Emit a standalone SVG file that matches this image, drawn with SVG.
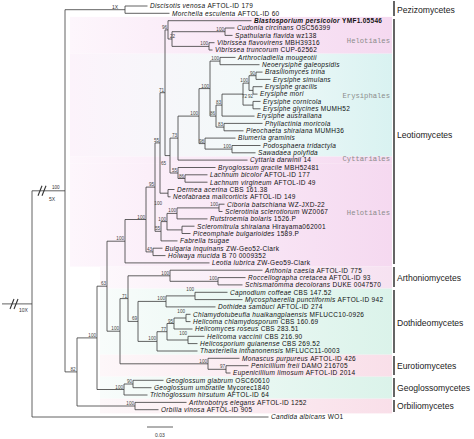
<svg xmlns="http://www.w3.org/2000/svg" width="474" height="439" viewBox="0 0 474 439">
<defs>
<linearGradient id="gPink" x1="0" x2="1" y1="0" y2="0"><stop offset="0" stop-color="#fdf6fc"/><stop offset="1" stop-color="#f5d9f0"/></linearGradient>
<linearGradient id="gCyan" x1="0" x2="1" y1="0" y2="0"><stop offset="0" stop-color="#fcf3fb"/><stop offset="0.55" stop-color="#f2f9f9"/><stop offset="1" stop-color="#d9f2f1"/></linearGradient>
<linearGradient id="gMint" x1="0" x2="1" y1="0" y2="0"><stop offset="0" stop-color="#f8fcfb"/><stop offset="1" stop-color="#dbf3ea"/></linearGradient>
<linearGradient id="gRose" x1="0" x2="1" y1="0" y2="0"><stop offset="0" stop-color="#fdf7f9"/><stop offset="1" stop-color="#f9dfe9"/></linearGradient>
<linearGradient id="gLav" x1="0" x2="1" y1="0" y2="0"><stop offset="0" stop-color="#fdf8fc"/><stop offset="1" stop-color="#f6e2f1"/></linearGradient>
</defs>
<style>
.t{font-family:"Liberation Sans",Arial,sans-serif;font-size:6.5px;letter-spacing:0.3px;font-style:italic;fill:#111}
.t .r{font-style:normal}
.b{font-weight:bold}
.s{font-family:"Liberation Sans",Arial,sans-serif;font-size:4.6px;fill:#444;text-anchor:end}
.m{font-family:"Liberation Sans",Arial,sans-serif;font-size:5px;fill:#333}
.c{font-family:"Liberation Sans",Arial,sans-serif;font-size:8.6px;fill:#222}
.o{font-family:"Liberation Mono","DejaVu Sans Mono",monospace;font-size:7.2px;fill:#8c8c8c;text-anchor:end}
.br{stroke:#3a3a3a;stroke-width:0.8;fill:none}
.sl{stroke:#333;stroke-width:1.1}
.bar{stroke:#111;stroke-width:1.3}
</style>
<rect width="474" height="439" fill="#fff"/>
<g id="bands">
<rect x="70" y="16.9" width="322" height="36.8" fill="url(#gPink)"/>
<rect x="70" y="53.7" width="322" height="102.8" fill="url(#gCyan)"/>
<rect x="70" y="156.5" width="322" height="7.3" fill="url(#gPink)"/>
<rect x="70" y="163.8" width="322" height="102.8" fill="url(#gPink)"/>
<rect x="100" y="266.6" width="292" height="22" fill="url(#gLav)"/>
<rect x="100" y="288.6" width="292" height="66.1" fill="url(#gMint)"/>
<rect x="100" y="354.7" width="292" height="22" fill="url(#gRose)"/>
<rect x="100" y="376.7" width="292" height="22" fill="url(#gMint)"/>
<rect x="100" y="398.7" width="292" height="14.7" fill="url(#gRose)"/>
</g>
<g id="connectors" class="br">
<path d="M2 303.9H32M32 190.8V417M32 190.8H65M32 417H268.5"/>
<path d="M65 9.7V371.9M65 9.7H125M65 371.9H77M125 6V13.3M125 6H147.5M125 13.3H169.5"/>
<path d="M77 337.9V406M77 337.9H97M77 406H135M135 402.4V409.7M135 402.4H186.5M135 409.7H158.5"/>
<path d="M97 286.2V389.5M97 286.2H107M97 389.5H124M124 384V395M124 384H133M124 395H147.5M133 380.3V387.7M133 380.3H163.5M133 387.7H151.5"/>
<path d="M107 241.2V331.2M107 241.2H125M107 331.2H120M120 298.6V363.8M120 298.6H128M120 363.8H208"/>
<path d="M208 358.3V369.3M208 358.3H239.5M208 369.3H226M226 365.7V373M226 365.7H248.5M226 373H230.5"/>
<path d="M128 275.8V321.4M128 275.8H170M128 321.4H138M170 270.2V281.3M170 270.2H262.5M170 281.3H218M218 277.6V284.9M218 277.6H245.5M218 284.9H242.5"/>
<path d="M138 301.4V341.4M138 301.4H166M138 341.4H157M166 295.9V306.9M166 295.9H195M166 306.9H215.5M195 292.3V299.6M195 292.3H227.5M195 299.6H242.5"/>
<path d="M157 331.7V351M157 331.7H167M157 351H197.5M167 323.5V340M167 323.5H174M167 340H188M174 318V329M174 318H186M174 329H192.5M186 314.3V321.6M186 314.3H190.5M186 321.6H190.5M188 336.3V343.6M188 336.3H204.5M188 343.6H197.5"/>
<path d="M125 219.5V262.9M125 219.5H146M125 262.9H209.5M146 187.1V251.9M146 187.1H155M146 251.9H153M153 248.2V255.6M153 248.2H162.5M153 255.6H165.5"/>
<path d="M155 142.9V231.3M155 142.9H160M155 231.3H161M161 221.6V240.9M161 221.6H167M161 240.9H177.5M167 213.4V229.9M167 213.4H177M167 229.9H182M182 226.2V233.5M182 226.2H194.5M182 233.5H190.5M177 207.9V218.9M177 207.9H219M177 218.9H207.5M219 204.2V211.5M219 204.2H224.5M219 211.5H222.5"/>
<path d="M160 92.7V193.2M160 92.7H165M160 193.2H168M168 189.5V196.8M168 189.5H174.5M168 196.8H170.5M165 29.9V155.6M165 29.9H168M165 155.6H170"/>
<path d="M168 20.7V39M168 20.7H251.5M168 39H172M172 31.7V46.4M172 31.7H225M172 46.4H209M225 28V35.4M225 28H234.5M225 35.4H232.5M209 42.7V50M209 42.7H214.5M209 50H212.5"/>
<path d="M170 138.1V173M170 138.1H178M170 173H178M178 167.5V178.5M178 167.5H215.5M178 178.5H185M185 174.8V182.2M185 174.8H207.5M185 182.2H207.5M178 116.1V160.1M178 116.1H199M178 160.1H247.5"/>
<path d="M199 88.6V143.6M199 88.6H210M199 143.6H205M205 138.1V149.1M205 138.1H235.5M205 149.1H232M232 145.5V152.8M232 145.5H260.5M232 152.8H255.5"/>
<path d="M210 61.1V116.1M210 61.1H220M210 116.1H216M220 57.4V64.7M220 57.4H235.5M220 64.7H259.5M216 105.1V127.1M216 105.1H222M216 127.1H224M224 123.4V130.8M224 123.4H262.5M224 130.8H243.5"/>
<path d="M222 94.1V116.1M222 94.1H243M222 116.1H254.5M243 83.1V105.1M243 83.1H249M243 105.1H253M249 75.7V90.4M249 75.7H256M249 90.4H253M256 72.1V79.4M256 72.1H262.5M256 79.4H270.5M253 86.7V94.1M253 86.7H262.5M253 94.1H257.5M253 101.4V108.8M253 101.4H260.5M253 108.8H260.5"/>
<path d="M147 427H173"/>
</g>
<g id="breaks">
<line class="sl" x1="10" y1="309" x2="14" y2="299"/><line class="sl" x1="14" y1="309" x2="18" y2="299"/>
<line class="sl" x1="38" y1="195.8" x2="42" y2="185.8"/><line class="sl" x1="42" y1="195.8" x2="46" y2="185.8"/>
<text class="m" x="19" y="311.5">10X</text>
<text class="m" x="49" y="200.5">5X</text>
<text class="m" x="52" y="188.5" style="font-size:4.6px">100</text>
<text class="m" x="112" y="9">1X</text>
<text class="m" x="155" y="436.5">0.03</text>
</g>
<g id="support" class="s">
<text x="75.5" y="370.9">82</text><text x="96" y="336.9">100</text><text x="134" y="405">100</text>
<text x="123" y="388.5">100</text><text x="132" y="383">90</text><text x="106" y="285.2">63</text>
<text x="124" y="240.2">100</text><text x="119" y="330.2">100</text><text x="127" y="297.6">71</text>
<text x="169" y="274.8">100</text><text x="217" y="280.3">100</text><text x="137" y="320.4">69</text>
<text x="165" y="300.4">100</text><text x="194" y="291.3">100</text><text x="156" y="340.4">100</text>
<text x="166" y="330.7">77</text><text x="173" y="322.5">95</text><text x="185" y="313.3">100</text>
<text x="187" y="335.3">100</text><text x="207" y="362.8">100</text><text x="225" y="368.3">97</text>
<text x="145" y="218.5">100</text><text x="154" y="186.1">95</text><text x="152" y="250.9">43</text>
<text x="159" y="141.9">55</text><text x="160" y="230.3">55</text><text x="166" y="220.6">100</text>
<text x="176" y="212.4">100</text><text x="218" y="205.6">100</text><text x="162" y="204.5">100</text>
<text x="164" y="91.7">71</text><text x="167" y="28.9">96</text><text x="175" y="38">22</text>
<text x="224" y="30.7">100</text><text x="208" y="45.4">100</text><text x="166" y="164.5">65</text>
<text x="177" y="137.1">73</text><text x="177" y="172">55</text><text x="184" y="177.5">86</text>
<text x="198" y="115.1">100</text><text x="209" y="87.6">100</text><text x="219" y="60.1">100</text>
<text x="215" y="115.1">86</text><text x="221" y="104.1">83</text><text x="223" y="126.1">83</text>
<text x="247" y="98">72</text><text x="253" y="98">92</text><text x="248" y="82.1">100</text>
<text x="255" y="74.7">90</text><text x="204" y="142.6">98</text><text x="231" y="148.1">100</text>
</g>
<g id="orders" class="o">
<text x="390" y="42.5">Helotiales</text>
<text x="390" y="97.5">Erysiphales</text>
<text x="390" y="160.5">Cyttariales</text>
<text x="390" y="214.5">Helotiales</text>
</g>
<g id="classes">
<g id="c-pezizo"><line class="bar" x1="394" y1="1" x2="394" y2="16"/><text class="c" x="397" y="13">Pezizomycetes</text></g>
<g id="c-leotio"><line class="bar" x1="394" y1="19" x2="394" y2="264"/><text class="c" x="397" y="138">Leotiomycetes</text></g>
<g id="c-arthonio"><line class="bar" x1="394" y1="267" x2="394" y2="287"/><text class="c" x="397" y="281">Arthoniomycetes</text></g>
<g id="c-dothideo"><line class="bar" x1="394" y1="290" x2="394" y2="353"/><text class="c" x="397" y="326">Dothideomycetes</text></g>
<g id="c-euro"><line class="bar" x1="394" y1="356" x2="394" y2="375"/><text class="c" x="397" y="369">Eurotiomycetes</text></g>
<g id="c-geo"><line class="bar" x1="394" y1="378" x2="394" y2="397"/><text class="c" x="397" y="391">Geoglossomycetes</text></g>
<g id="c-orbilio"><line class="bar" x1="394" y1="400" x2="394" y2="412"/><text class="c" x="397" y="409">Orbiliomycetes</text></g>
</g>
<g id="taxa" class="t">
<g id="t0"><text x="150" y="8.3">Discisotis venosa <tspan class="r">AFTOL-ID 179</tspan></text></g>
<g id="t1"><text x="172" y="15.6">Morchella esculenta <tspan class="r">AFTOL-ID 60</tspan></text></g>
<g id="t2"><text class="b" x="254" y="23">Blastosporium persicolor <tspan class="r">YMF1.05546</tspan></text></g>
<g id="t3"><text x="237" y="30.3">Cudonia circinans <tspan class="r">OSC56399</tspan></text></g>
<g id="t4"><text x="235" y="37.7">Spathularia flavida <tspan class="r">wz138</tspan></text></g>
<g id="t5"><text x="217" y="45">Vibrissea flavovirens <tspan class="r">MBH39316</tspan></text></g>
<g id="t6"><text x="215" y="52.3">Vibrissea truncorum <tspan class="r">CUP-62562</tspan></text></g>
<g id="t7"><text x="238" y="59.7">Arthrocladiella mougeotii</text></g>
<g id="t8"><text x="262" y="67">Neoerysiphe galeopsidis</text></g>
<g id="t9"><text x="265" y="74.4">Brasiliomyces trina</text></g>
<g id="t10"><text x="273" y="81.7">Erysiphe simulans</text></g>
<g id="t11"><text x="265" y="89">Erysiphe gracilis</text></g>
<g id="t12"><text x="260" y="96.4">Erysiphe mori</text></g>
<g id="t13"><text x="263" y="103.7">Erysiphe cornicola</text></g>
<g id="t14"><text x="263" y="111.1">Erysiphe glycines <tspan class="r">MUMH52</tspan></text></g>
<g id="t15"><text x="257" y="118.4">Erysiphe australiana</text></g>
<g id="t16"><text x="265" y="125.7">Phyllactinia moricola</text></g>
<g id="t17"><text x="246" y="133.1">Pleochaeta shiraiana <tspan class="r">MUMH36</tspan></text></g>
<g id="t18"><text x="238" y="140.4">Blumeria graminis</text></g>
<g id="t19"><text x="263" y="147.8">Podosphaera tridactyla</text></g>
<g id="t20"><text x="258" y="155.1">Sawadaea polyfida</text></g>
<g id="t21"><text x="250" y="162.4">Cyttaria darwinii <tspan class="r">14</tspan></text></g>
<g id="t22"><text x="218" y="169.8">Bryoglossum gracile <tspan class="r">MBH52481</tspan></text></g>
<g id="t23"><text x="210" y="177.1">Lachnum bicolor <tspan class="r">AFTOL-ID 177</tspan></text></g>
<g id="t24"><text x="210" y="184.5">Lachnum virgineum <tspan class="r">AFTOL-ID 49</tspan></text></g>
<g id="t25"><text x="177" y="191.8">Dermea acerina <tspan class="r">CBS 161.38</tspan></text></g>
<g id="t26"><text x="173" y="199.1">Neofabraea malicorticis <tspan class="r">AFTOL-ID 149</tspan></text></g>
<g id="t27"><text x="227" y="206.5">Ciboria batschiana <tspan class="r">WZ-JXD-22</tspan></text></g>
<g id="t28"><text x="225" y="213.8">Sclerotinia sclerotiorum <tspan class="r">WZ0067</tspan></text></g>
<g id="t29"><text x="210" y="221.2">Rutstroemia bolaris <tspan class="r">1526.P</tspan></text></g>
<g id="t30"><text x="197" y="228.5">Scleromitrula shiraiana <tspan class="r">Hirayama062001</tspan></text></g>
<g id="t31"><text x="193" y="235.8">Piceomphale bulgarioides <tspan class="r">1589.P</tspan></text></g>
<g id="t32"><text x="180" y="243.2">Fabrella tsugae</text></g>
<g id="t33"><text x="165" y="250.5">Bulgaria inquinans <tspan class="r">ZW-Geo52-Clark</tspan></text></g>
<g id="t34"><text x="168" y="257.9">Holwaya mucida <tspan class="r">B 70 0009352</tspan></text></g>
<g id="t35"><text x="212" y="265.2">Leotia lubrica <tspan class="r">ZW-Geo59-Clark</tspan></text></g>
<g id="t36"><text x="265" y="272.5">Arthonia caesia <tspan class="r">AFTOL-ID 775</tspan></text></g>
<g id="t37"><text x="248" y="279.9">Roccellographa cretacea <tspan class="r">AFTOL-ID 93</tspan></text></g>
<g id="t38"><text x="245" y="287.2">Schismatomma decolorans <tspan class="r">DUKE 0047570</tspan></text></g>
<g id="t39"><text x="230" y="294.6">Capnodium coffeae <tspan class="r">CBS 147.52</tspan></text></g>
<g id="t40"><text x="245" y="301.9">Mycosphaerella punctiformis <tspan class="r">AFTOL-ID 942</tspan></text></g>
<g id="t41"><text x="218" y="309.2">Dothidea sambuci <tspan class="r">AFTOL-ID 274</tspan></text></g>
<g id="t42"><text x="193" y="316.6">Chlamydotubeufia huaikangplaensis <tspan class="r">MFLUCC10-0926</tspan></text></g>
<g id="t43"><text x="193" y="323.9">Helicoma chlamydosporum <tspan class="r">CBS 160.69</tspan></text></g>
<g id="t44"><text x="195" y="331.3">Helicomyces roseus <tspan class="r">CBS 283.51</tspan></text></g>
<g id="t45"><text x="207" y="338.6">Helicoma vaccinii <tspan class="r">CBS 216.90</tspan></text></g>
<g id="t46"><text x="200" y="345.9">Helicosporium guianense <tspan class="r">CBS 269.52</tspan></text></g>
<g id="t47"><text x="200" y="353.3">Thaxteriella inthanonensis <tspan class="r">MFLUCC11-0003</tspan></text></g>
<g id="t48"><text x="242" y="360.6">Monascus purpureus <tspan class="r">AFTOL-ID 426</tspan></text></g>
<g id="t49"><text x="251" y="368">Penicillium freii <tspan class="r">DAMO 216705</tspan></text></g>
<g id="t50"><text x="233" y="375.3">Eupenicillium limosum <tspan class="r">AFTOL-ID 2014</tspan></text></g>
<g id="t51"><text x="166" y="382.6">Geoglossum glabrum <tspan class="r">OSC60610</tspan></text></g>
<g id="t52"><text x="154" y="390">Geoglossum umbratile <tspan class="r">Mycorec1840</tspan></text></g>
<g id="t53"><text x="150" y="397.3">Trichoglossum hirsutum <tspan class="r">AFTOL-ID 64</tspan></text></g>
<g id="t54"><text x="189" y="404.7">Arthrobotrys elegans <tspan class="r">AFTOL-ID 1252</tspan></text></g>
<g id="t55"><text x="161" y="412">Orbilia vinosa <tspan class="r">AFTOL-ID 905</tspan></text></g>
<g id="t56"><text x="271" y="419.3">Candida albicans <tspan class="r">WO1</tspan></text></g>
</g>
</svg>
